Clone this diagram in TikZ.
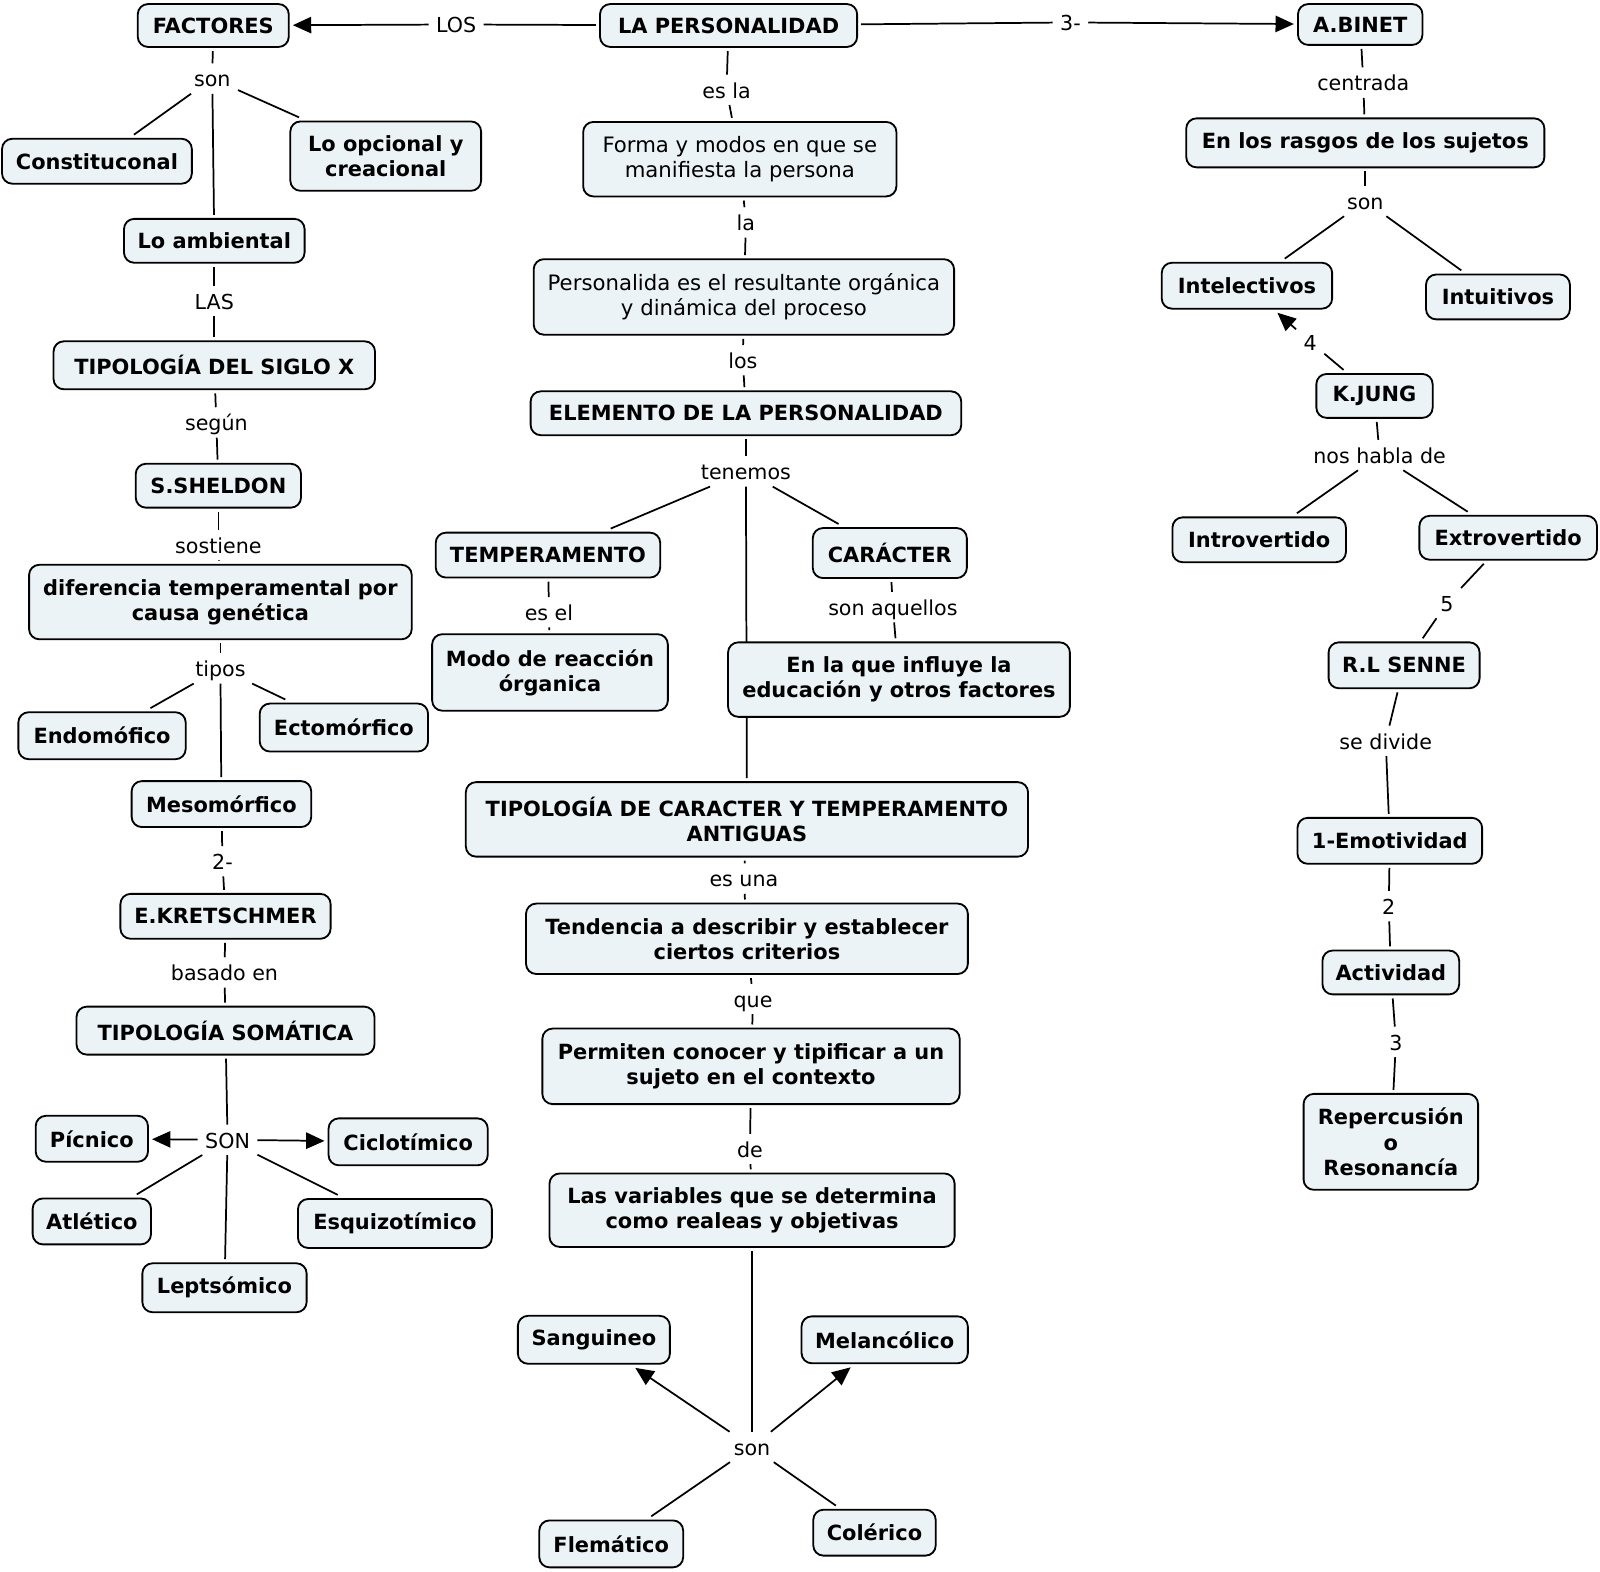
\documentclass[tikz,border=0pt]{standalone}
\usepackage{fontspec}
\setmainfont{DejaVu Sans}
\usetikzlibrary{arrows.meta,backgrounds}
\definecolor{boxfill}{RGB}{235,243,246}
\begin{document}
\begin{tikzpicture}[x=0.5pt,y=-0.5pt,
  box/.style={draw=black, line width=0.9pt, rounded corners=5pt, fill=boxfill, inner sep=0pt, align=center, font=\fontsize{10.25}{12.3}\selectfont\bfseries, outer sep=2pt},
  bx/.style n args={2}{box, minimum width=#1pt, minimum height=#2pt},
  pbx/.style n args={2}{box, minimum width=#1pt, minimum height=#2pt, font=\fontsize{10.4}{12.3}\selectfont},
  lnk/.style={inner xsep=3.5pt, inner ysep=2.5pt, text height=8.8pt, text depth=0.7pt, font=\fontsize{10.1}{12}\selectfont},
  con/.style={line width=0.85pt},
  arr/.style={con, -{Triangle[length=9pt,width=8pt]}}
]
\useasboundingbox (0,0) rectangle (1568,1540);
% ---------- concepts ----------
\node[bx={74}{21}] (factores) at (209,25) {FACTORES};
\node[bx={126}{21}] (lapers) at (714,25) {LA PERSONALIDAD};
\node[bx={61}{20}] (abinet) at (1333,24) {A.BINET};
\node[bx={93}{22}] (constit) at (95,158) {Constituconal};
\node[bx={93.5}{34}] (opcional) at (378,153) {Lo opcional y\\creacional};
\node[bx={88.5}{21.5}] (ambiental) at (210,236) {Lo ambiental};
\node[bx={157.5}{23.5}] (tsiglo) at (210,358) {TIPOLOGÍA DEL SIGLO X};
\node[bx={81}{21.5}] (sheldon) at (214,476) {S.SHELDON};
\node[bx={187.5}{36.5}] (diferencia) at (216,590) {diferencia temperamental por\\causa genética};
\node[bx={82}{23}] (endo) at (100,721) {Endomófico};
\node[bx={82.5}{23.5}] (ecto) at (337,713) {Ectomórfico};
\node[bx={88}{22.5}] (meso) at (217,788) {Mesomórfico};
\node[bx={103}{22}] (kretsch) at (221,898) {E.KRETSCHMER};
\node[bx={146}{23.5}] (tsomat) at (221,1010) {TIPOLOGÍA SOMÁTICA};
\node[bx={55}{22.5}] (picnico) at (90,1116) {Pícnico};
\node[bx={78}{23}] (ciclo) at (400,1119) {Ciclotímico};
\node[bx={58}{22.5}] (atletico) at (90,1197) {Atlético};
\node[bx={95}{24}] (esquizo) at (387,1199) {Esquizotímico};
\node[bx={80.5}{24}] (lepto) at (220,1262) {Leptsómico};
\node[pbx={153.5}{36.5}] (forma) at (725,156) {Forma y modos en que se\\manifiesta la persona};
\node[pbx={206}{37}] (personalida) at (729,291) {Personalida es el resultante orgánica\\y dinámica del proceso};
\node[bx={211}{21.5}] (elemento) at (731,405) {ELEMENTO DE LA PERSONALIDAD};
\node[bx={110}{22}] (temper) at (537,544) {TEMPERAMENTO};
\node[bx={75.5}{24.5}] (caracter) at (872,542) {CARÁCTER};
\node[bx={115.5}{37.5}] (modo) at (539,659) {Modo de reacción\\órganica};
\node[bx={167.5}{36.5}] (enla) at (881,666) {En la que influye la\\educación y otros factores};
\node[bx={275.5}{36.5}] (tcaract) at (732,803) {TIPOLOGÍA DE CARACTER Y TEMPERAMENTO\\ANTIGUAS};
\node[bx={216.5}{34.5}] (tendencia) at (732,920) {Tendencia a describir y establecer\\ciertos criterios};
\node[bx={204.5}{37}] (permiten) at (736,1045) {Permiten conocer y tipificar a un\\sujeto en el contexto};
\node[bx={198.5}{36}] (variables) at (737,1186) {Las variables que se determina\\como realeas y objetivas};
\node[bx={74.5}{23.5}] (sangui) at (582,1313) {Sanguineo};
\node[bx={81.5}{23}] (melan) at (867,1313) {Melancólico};
\node[bx={70.5}{23}] (flema) at (599,1513) {Flemático};
\node[bx={60}{22.5}] (colerico) at (857,1502) {Colérico};
\node[bx={175.5}{24}] (rasgos) at (1338,140) {En los rasgos de los sujetos};
\node[bx={83.5}{22.5}] (intelect) at (1222,280) {Intelectivos};
\node[bx={70.5}{22}] (intuit) at (1468,291) {Intuitivos};
\node[bx={57}{21.5}] (kjung) at (1347,388) {K.JUNG};
\node[bx={85}{22}] (introv) at (1234,529) {Introvertido};
\node[bx={87}{21.5}] (extrov) at (1478,527) {Extrovertido};
\node[bx={74}{22.5}] (senne) at (1376,652) {R.L SENNE};
\node[bx={90.5}{22.5}] (emoti) at (1362,824) {1-Emotividad};
\node[bx={67}{21.5}] (activ) at (1363,953) {Actividad};
\node[bx={85.5}{47}] (reperc) at (1363,1119) {Repercusión\\o\\Resonancía};
% ---------- linking phrases ----------
\node[lnk] (l_los) at (447,24) {LOS};
\node[lnk] (l_3) at (1049,22) {3-};
\node[lnk] (l_son1) at (208,77) {son};
\node[lnk] (l_las) at (210,295) {LAS};
\node[lnk] (l_segun) at (212,414) {según};
\node[lnk] (l_sost) at (214,534) {sostiene};
\node[lnk] (l_tipos) at (216,655) {tipos};
\node[lnk] (l_2g) at (218,844) {2-};
\node[lnk] (l_basado) at (220,953) {basado en};
\node[lnk] (l_SON) at (223,1117) {SON};
\node[lnk] (l_esla) at (712,88) {es la};
\node[lnk] (l_la) at (731,218) {la};
\node[lnk] (l_los2) at (728,353) {los};
\node[lnk] (l_tenemos) at (731,462) {tenemos};
\node[lnk] (l_esel) at (538,600) {es el};
\node[lnk] (l_sonaq) at (875,595) {son aquellos};
\node[lnk] (l_esuna) at (729,861) {es una};
\node[lnk] (l_que) at (738,979) {que};
\node[lnk] (l_de) at (735,1126) {de};
\node[lnk] (l_son3) at (737,1418) {son};
\node[lnk] (l_centrada) at (1336,81) {centrada};
\node[lnk] (l_son2) at (1338,197) {son};
\node[lnk] (l_4) at (1284,335) {4};
\node[lnk] (l_nos) at (1352,446) {nos habla de};
\node[lnk] (l_5) at (1418,591) {5};
\node[lnk] (l_sediv) at (1358,726) {se divide};
\node[lnk] (l_2) at (1361,888) {2};
\node[lnk] (l_3b) at (1368,1021) {3};
% ---------- connectors ----------
\begin{pgfonlayer}{background}
\fill[white] (0,0) rectangle (1568,1540);
\draw[con] (lapers) -- (l_los); \draw[arr] (l_los) -- (factores);
\draw[con] (lapers) -- (l_3); \draw[arr] (l_3) -- (abinet);
\draw[con] (lapers) -- (l_esla); \draw[con] (l_esla) -- (forma);
\draw[con] (forma) -- (l_la); \draw[con] (l_la) -- (personalida);
\draw[con] (personalida) -- (l_los2); \draw[con] (l_los2) -- (elemento);
\draw[con] (elemento) -- (l_tenemos);
\draw[con] (l_tenemos) -- (temper);
\draw[con] (l_tenemos) -- (caracter);
\draw[con] (l_tenemos) -- (tcaract);
\draw[con] (temper) -- (l_esel); \draw[con] (l_esel) -- (modo);
\draw[con] (caracter) -- (l_sonaq); \draw[con] (l_sonaq) -- (enla);
\draw[con] (tcaract) -- (l_esuna); \draw[con] (l_esuna) -- (tendencia);
\draw[con] (tendencia) -- (l_que); \draw[con] (l_que) -- (permiten);
\draw[con] (permiten) -- (l_de); \draw[con] (l_de) -- (variables);
\draw[con] (variables) -- (l_son3);
\draw[arr] (l_son3) -- (sangui);
\draw[arr] (l_son3) -- (melan);
\draw[con] (l_son3) -- (flema);
\draw[con] (l_son3) -- (colerico);
\draw[con] (factores) -- (l_son1);
\draw[con] (l_son1) -- (constit);
\draw[con] (l_son1) -- (opcional);
\draw[con] (l_son1) -- (ambiental);
\draw[con] (ambiental) -- (l_las); \draw[con] (l_las) -- (tsiglo);
\draw[con] (tsiglo) -- (l_segun); \draw[con] (l_segun) -- (sheldon);
\draw[con] (sheldon) -- (l_sost); \draw[con] (l_sost) -- (diferencia);
\draw[con] (diferencia) -- (l_tipos);
\draw[con] (l_tipos) -- (endo);
\draw[con] (l_tipos) -- (ecto);
\draw[con] (l_tipos) -- (meso);
\draw[con] (meso) -- (l_2g); \draw[con] (l_2g) -- (kretsch);
\draw[con] (kretsch) -- (l_basado); \draw[con] (l_basado) -- (tsomat);
\draw[con] (tsomat) -- (l_SON);
\draw[arr] (l_SON) -- (picnico);
\draw[arr] (l_SON) -- (ciclo);
\draw[con] (l_SON) -- (atletico);
\draw[con] (l_SON) -- (esquizo);
\draw[con] (l_SON) -- (lepto);
\draw[con] (abinet) -- (l_centrada); \draw[con] (l_centrada) -- (rasgos);
\draw[con] (rasgos) -- (l_son2);
\draw[con] (l_son2) -- (intelect);
\draw[con] (l_son2) -- (intuit);
\draw[con] (kjung) -- (l_4); \draw[arr] (l_4) -- (intelect);
\draw[con] (kjung) -- (l_nos);
\draw[con] (l_nos) -- (introv);
\draw[con] (l_nos) -- (extrov);
\draw[con] (extrov) -- (l_5); \draw[con] (l_5) -- (senne);
\draw[con] (senne) -- (l_sediv); \draw[con] (l_sediv) -- (emoti);
\draw[con] (emoti) -- (l_2); \draw[con] (l_2) -- (activ);
\draw[con] (activ) -- (l_3b); \draw[con] (l_3b) -- (reperc);
\end{pgfonlayer}
\end{tikzpicture}
\end{document}
